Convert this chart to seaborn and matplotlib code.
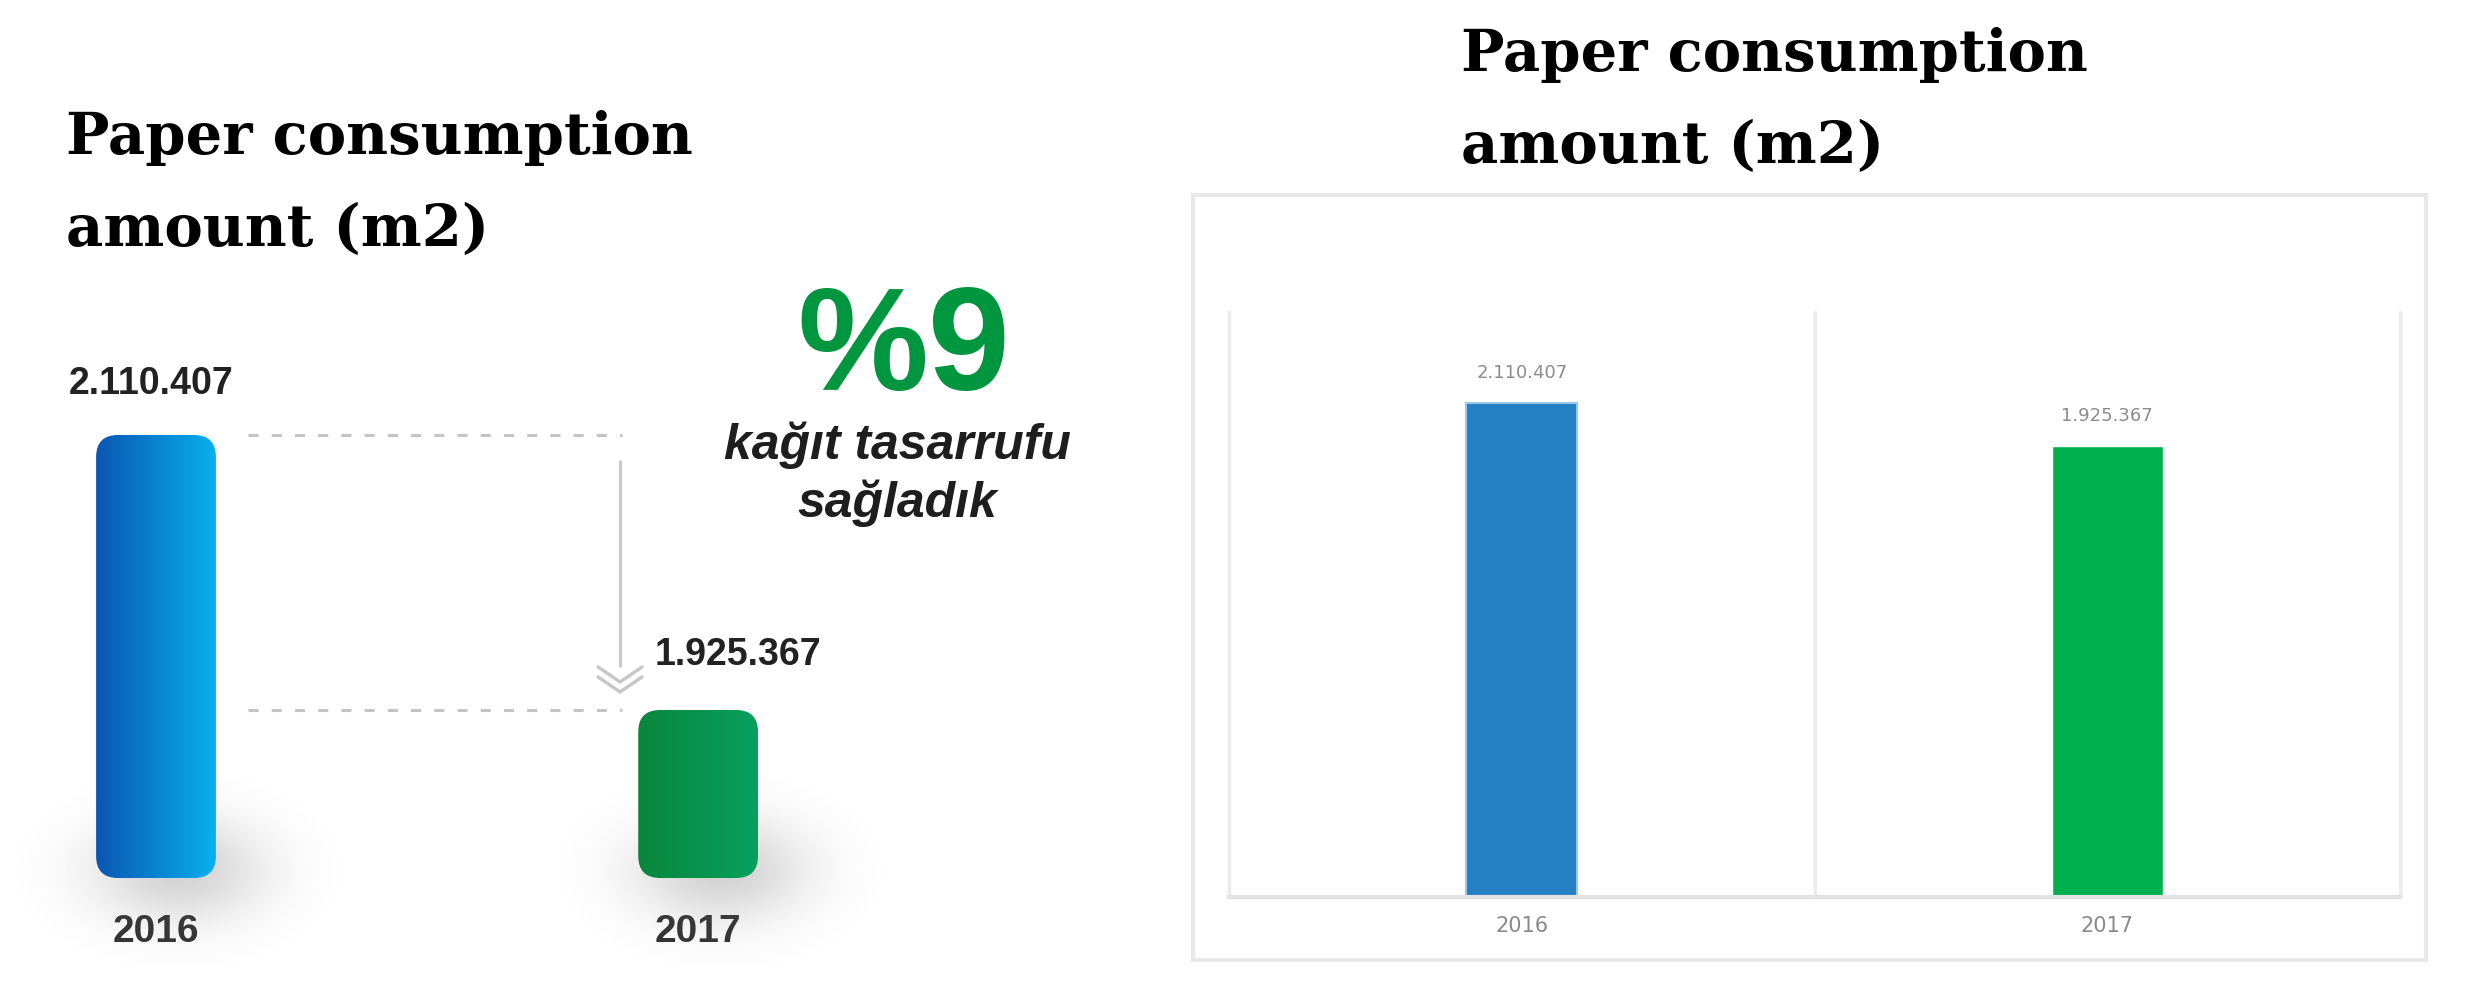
import numpy as np
import matplotlib
matplotlib.use("Agg")
import matplotlib.pyplot as plt
import seaborn as sns
from matplotlib.patches import FancyBboxPatch, Rectangle
from matplotlib.colors import LinearSegmentedColormap
from matplotlib import font_manager

# ---------------- data ----------------
years = ["2016", "2017"]
paper_m2 = [2110407, 1925367]
saving_big = "%9"
saving_lines = ["kağıt tasarrufu", "sağladık"]
title_lines = ["Paper consumption", "amount (m2)"]


def fmt(v):
    return f"{int(round(v)):,}".replace(",", ".")


# ---------------- setup ----------------
W, H = 2491, 986
sns.set_theme(style="white")
plt.rcParams["font.family"] = ["DejaVu Sans"]
installed = {f.name for f in font_manager.fontManager.ttflist}
if "Liberation Sans Narrow" in installed:
    num_family, num_size = "Liberation Sans Narrow", 30
else:
    num_family, num_size = "Liberation Sans", 27

fig = plt.figure(figsize=(W / 100, H / 100), dpi=100)
fig.patch.set_facecolor("white")


def fx(px):
    return px / W


def fy(py):
    return 1 - py / H


# titles (both panels)
for x0, base in [(66, 154), (1461, 71)]:
    for i, line in enumerate(title_lines):
        fig.text(fx(x0), fy(base + 92 * i), line, family="DejaVu Serif",
                 weight="bold", fontsize=41.5, color="black",
                 ha="left", va="baseline")

# ---------------- left infographic panel ----------------
LEFT_FLOOR, LEFT_TOP = 1_812_300, 2_335_800
XL = (-0.214, 1.852)
ax_w_px, ax_h_px = 1160 - 40, 878 - 100
axl = fig.add_axes([fx(40), fy(878), ax_w_px / W, ax_h_px / H])
axl.patch.set_alpha(0)
sns.barplot(x=years, y=paper_m2, hue=years, palette=["#0b6fd0", "#0b9450"],
            width=0.221, legend=False, ax=axl)
xpp = (XL[1] - XL[0]) / ax_w_px
vpp = (LEFT_TOP - LEFT_FLOOR) / ax_h_px

grad_colors = [("#0a56b2", "#0bb0ef"), ("#0a863c", "#08a05e")]
bars = list(axl.patches)
geo = []
for p, (c0, c1) in zip(bars, grad_colors):
    x0, w, v = p.get_x(), p.get_width(), p.get_y() + p.get_height()
    p.set_visible(False)
    geo.append((x0, w, v))
    cx = x0 + w / 2
    # soft shadow around the bar foot (fades fully to zero at its edges)
    sx, sy = 62, 38
    gx = np.linspace(-4 * sx, 4 * sx, 240)
    gy = np.linspace(4 * sy, -4 * sy, 200)
    GX, GY = np.meshgrid(gx, gy)
    g = np.exp(-(GX ** 2) / (2 * sx ** 2) - (GY ** 2) / (2 * sy ** 2))
    g = np.clip((g - 0.02) / 0.98, 0, 1)
    rgba = np.zeros(GX.shape + (4,))
    rgba[..., :3] = 0.42
    rgba[..., 3] = 0.30 * g
    ox, oy = 22, 8
    axl.imshow(rgba, extent=[cx + (ox - 4 * sx) * xpp, cx + (ox + 4 * sx) * xpp,
                             LEFT_FLOOR + (oy - 4 * sy) * vpp,
                             LEFT_FLOOR + (oy + 4 * sy) * vpp],
               aspect="auto", zorder=1, clip_on=False, interpolation="bilinear")
    # rounded gradient bar
    patch = FancyBboxPatch((x0, LEFT_FLOOR), w, v - LEFT_FLOOR,
                           boxstyle=f"round,pad=0,rounding_size={22 * xpp}",
                           mutation_aspect=vpp / xpp, facecolor="none",
                           edgecolor="none", zorder=3)
    axl.add_patch(patch)
    cmap = LinearSegmentedColormap.from_list("g", [c0, c1])
    im = axl.imshow(np.linspace(0, 1, 256).reshape(1, -1), cmap=cmap,
                    extent=[x0, x0 + w, LEFT_FLOOR, v], aspect="auto",
                    zorder=3, interpolation="bicubic")
    im.set_clip_path(patch)

(xb, wb, v0), (xg, wg, v1) = geo

# dashed guide lines at the two values
axl.hlines([v0, v1], 0.17, 0.86, colors="#c4c4c4",
           linestyles=(0, (3.3, 4.3)), lw=2.2, zorder=2)

# down arrow with double chevron
xa = 0.856
axl.plot([xa, xa], [v0 - 25 * vpp, v1 + 43 * vpp], color="#cbcbcb", lw=2.4,
         solid_capstyle="butt", zorder=2)
for arm, apex in [(43, 28), (33, 18)]:
    axl.plot([xa - 22 * xpp, xa, xa + 22 * xpp],
             [v1 + arm * vpp, v1 + apex * vpp, v1 + arm * vpp],
             color="#c6c6c6", lw=2.4, zorder=2, solid_joinstyle="miter")

# value labels
axl.annotate(fmt(v0), xy=(xb, v0), xytext=(-27, 51), textcoords="offset pixels",
             ha="left", va="center", fontsize=num_size, weight="bold",
             family=num_family, color="#222222")
axl.annotate(fmt(v1), xy=(xa, v1), xytext=(35, 55), textcoords="offset pixels",
             ha="left", va="center", fontsize=num_size, weight="bold",
             family=num_family, color="#222222")

axl.set_xlim(*XL)
axl.set_ylim(LEFT_FLOOR, LEFT_TOP)
axl.set_yticks([])
axl.set_xlabel("")
axl.set_ylabel("")
for s in axl.spines.values():
    s.set_visible(False)
axl.tick_params(axis="x", length=0, pad=26, labelsize=28, labelcolor="#333333")
for lbl in axl.get_xticklabels():
    lbl.set_fontweight("bold")
    lbl.set_family("Liberation Sans")

# saving callout
fig.text(fx(904), fy(390), saving_big, ha="center", va="baseline",
         fontsize=106, weight="bold", color="#009640", family="Liberation Sans")
for i, line in enumerate(saving_lines):
    fig.text(fx(897), fy(459 + 58 * i), line, ha="center", va="baseline",
             fontsize=36, weight="bold", style="italic",
             family="Liberation Sans", color="#1e1e1e")

# ---------------- right (plain) panel ----------------
fig.add_artist(Rectangle((fx(1193), fy(960)), (2426 - 1193) / W, (960 - 195) / H,
                         transform=fig.transFigure, fill=False,
                         edgecolor="#e8e8e8", lw=3))
axr = fig.add_axes([fx(1229), fy(897), (2400 - 1229) / W, (897 - 312) / H])
sns.barplot(x=years, y=paper_m2, hue=years, palette=["#2580c3", "#00b04f"],
            width=0.19, legend=False, ax=axr, saturation=1)
axr.patches[0].set_edgecolor("#9cc5ea")
axr.patches[0].set_linewidth(1.5)
for p in axr.patches:
    h = p.get_y() + p.get_height()
    axr.annotate(fmt(h), xy=(p.get_x() + p.get_width() / 2, h), xytext=(0, 30),
                 textcoords="offset pixels", ha="center", va="center",
                 fontsize=13, color="#8c8c8c")
for xv in [-0.5, 0.5, 1.5]:
    axr.axvline(xv, color="#ebebeb", lw=2.5, zorder=0, clip_on=False)
axr.set_xlim(-0.5, 1.5)
axr.set_ylim(0, 2_500_000)
axr.set_yticks([])
axr.set_xlabel("")
axr.set_ylabel("")
for k in ["top", "left", "right"]:
    axr.spines[k].set_visible(False)
axr.spines["bottom"].set_color("#e3e3e3")
axr.spines["bottom"].set_linewidth(3)
axr.tick_params(axis="x", length=0, pad=14, labelsize=15, labelcolor="#8a8a8a")

fig.savefig("out.png", dpi=100, facecolor="white")
